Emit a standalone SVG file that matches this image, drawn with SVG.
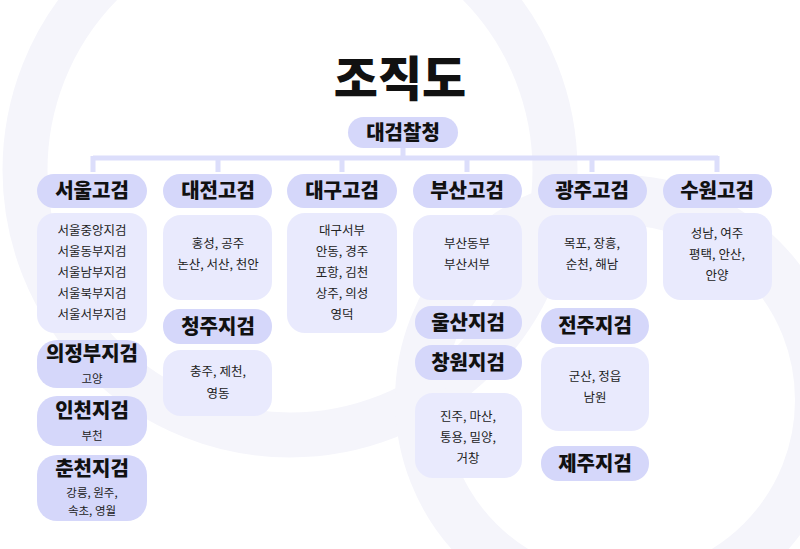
<svg xmlns="http://www.w3.org/2000/svg" width="800" height="549" viewBox="0 0 800 549">
<style>
.h{fill:#d5d7fa}.b{fill:#e9eafd}
.ht{font-family:"Noto Sans CJK KR",sans-serif;font-weight:900;font-size:20px;fill:#111;text-anchor:middle}
.bt{font-family:"Noto Sans CJK KR",sans-serif;font-size:12.5px;fill:#222;text-anchor:middle}
.st{font-family:"Noto Sans CJK KR",sans-serif;font-size:11.5px;fill:#222;text-anchor:middle}
.ln{stroke:#dcdefb;stroke-width:5;fill:none}
</style>
<rect width="800" height="549" fill="#fff"/>
<circle cx="290" cy="170" r="265" fill="none" stroke="#f5f5fb" stroke-width="45"/>
<circle cx="620" cy="400" r="200" fill="none" stroke="#f5f5fb" stroke-width="50"/>
<text x="400" y="96" font-family="Noto Sans CJK KR,sans-serif" font-weight="900" font-size="48" text-anchor="middle" fill="#111">조직도</text>
<g id="connectors">
<path class="ln" d="M93 158H718M93 156V172M218 156V172M342 156V172M467 156V172M592 156V172M717 156V172M403 146V158"/>
</g>
<g id="n0"><rect class="h" x="348" y="117" width="110" height="31" rx="15.5"/><text class="ht" x="403" y="140">대검찰청</text></g>
<g id="c1">
<rect class="h" x="37" y="174" width="110" height="34" rx="17"/><text class="ht" x="92" y="198">서울고검</text>
<rect class="b" x="37" y="213" width="110" height="120" rx="18"/>
<text class="bt" x="92" y="235">서울중앙지검</text><text class="bt" x="92" y="256">서울동부지검</text><text class="bt" x="92" y="277">서울남부지검</text><text class="bt" x="92" y="298">서울북부지검</text><text class="bt" x="92" y="319">서울서부지검</text>
<rect class="h" x="37" y="340" width="110" height="48" rx="20"/><text class="ht" x="92" y="361">의정부지검</text><text class="st" x="92" y="383">고양</text>
<rect class="h" x="37" y="396" width="110" height="50" rx="20"/><text class="ht" x="92" y="418">인천지검</text><text class="st" x="92" y="440">부천</text>
<rect class="h" x="37" y="455" width="110" height="66" rx="20"/><text class="ht" x="92" y="476">춘천지검</text><text class="st" x="92" y="497">강릉, 원주,</text><text class="st" x="92" y="515">속초, 영월</text>
</g>
<g id="c2">
<rect class="h" x="163" y="174" width="109" height="34" rx="17"/><text class="ht" x="218" y="198">대전고검</text>
<rect class="b" x="163" y="215" width="109" height="85" rx="18"/>
<text class="bt" x="218" y="248">홍성, 공주</text><text class="bt" x="218" y="269">논산, 서산, 천안</text>
<rect class="h" x="163" y="309" width="109" height="35" rx="17"/><text class="ht" x="218" y="334">청주지검</text>
<rect class="b" x="163" y="350" width="109" height="66" rx="18"/>
<text class="bt" x="218" y="376">충주, 제천,</text><text class="bt" x="218" y="398">영동</text>
</g>
<g id="c3">
<rect class="h" x="287" y="174" width="110" height="34" rx="17"/><text class="ht" x="342" y="198">대구고검</text>
<rect class="b" x="287" y="213" width="110" height="120" rx="18"/>
<text class="bt" x="342" y="235">대구서부</text><text class="bt" x="342" y="256">안동, 경주</text><text class="bt" x="342" y="277">포항, 김천</text><text class="bt" x="342" y="298">상주, 의성</text><text class="bt" x="342" y="319">영덕</text>
</g>
<g id="c4">
<rect class="h" x="413" y="174" width="109" height="34" rx="17"/><text class="ht" x="467" y="198">부산고검</text>
<rect class="b" x="413" y="215" width="109" height="85" rx="18"/>
<text class="bt" x="467" y="248">부산동부</text><text class="bt" x="467" y="269">부산서부</text>
<rect class="h" x="415" y="306" width="107" height="33" rx="16"/><text class="ht" x="468" y="330">울산지검</text>
<rect class="h" x="415" y="345" width="107" height="35" rx="17"/><text class="ht" x="468" y="370">창원지검</text>
<rect class="b" x="415" y="393" width="107" height="85" rx="18"/>
<text class="bt" x="468" y="421">진주, 마산,</text><text class="bt" x="468" y="442">통용, 밀양,</text><text class="bt" x="468" y="463">거창</text>
</g>
<g id="c5">
<rect class="h" x="538" y="174" width="109" height="34" rx="17"/><text class="ht" x="592" y="198">광주고검</text>
<rect class="b" x="538" y="215" width="109" height="85" rx="18"/>
<text class="bt" x="592" y="248">목포, 장흥,</text><text class="bt" x="592" y="269">순천, 해남</text>
<rect class="h" x="541" y="308" width="108" height="36" rx="18"/><text class="ht" x="595" y="333">전주지검</text>
<rect class="b" x="541" y="347" width="108" height="84" rx="18"/>
<text class="bt" x="595" y="381">군산, 정읍</text><text class="bt" x="595" y="402">남원</text>
<rect class="h" x="541" y="446" width="108" height="35" rx="17"/><text class="ht" x="595" y="471">제주지검</text>
</g>
<g id="c6">
<rect class="h" x="663" y="174" width="109" height="34" rx="17"/><text class="ht" x="717" y="198">수원고검</text>
<rect class="b" x="663" y="213" width="109" height="87" rx="18"/>
<text class="bt" x="717" y="238">성남, 여주</text><text class="bt" x="717" y="259">평택, 안산,</text><text class="bt" x="717" y="280">안양</text>
</g>
</svg>
